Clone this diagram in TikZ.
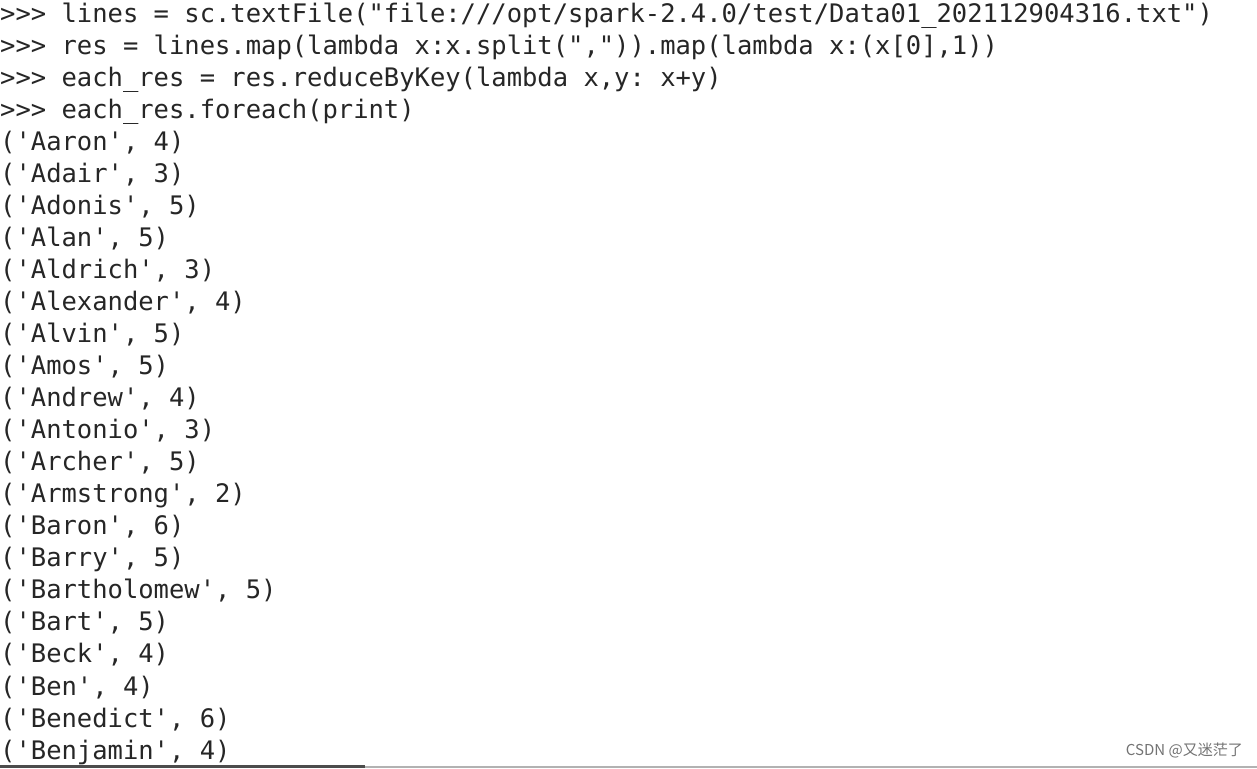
\documentclass[tikz,border=0pt]{standalone}
\usepackage{fontspec}
\setmonofont{DejaVu Sans Mono}
\newfontfamily\cjk{Noto Sans CJK SC}
\begin{document}
\begin{tikzpicture}[x=1pt,y=1pt,
  term/.style={anchor=base west,inner sep=0pt,font=\ttfamily\fontsize{25.5}{30}\selectfont,text=black!85}]
\useasboundingbox (0,0) rectangle (1257,768);
\fill[white] (0,0) rectangle (1257,768);
\def\L#1#2{\node[term] (l#1) at (0,{768-23-32*#1}) {\detokenize{#2}};}
\L{0}{>>> lines = sc.textFile("file:///opt/spark-2.4.0/test/Data01_202112904316.txt")}
\L{1}{>>> res = lines.map(lambda x:x.split(",")).map(lambda x:(x[0],1))}
\L{2}{>>> each_res = res.reduceByKey(lambda x,y: x+y)}
\L{3}{>>> each_res.foreach(print)}
\L{4}{('Aaron', 4)}
\L{5}{('Adair', 3)}
\L{6}{('Adonis', 5)}
\L{7}{('Alan', 5)}
\L{8}{('Aldrich', 3)}
\L{9}{('Alexander', 4)}
\L{10}{('Alvin', 5)}
\L{11}{('Amos', 5)}
\L{12}{('Andrew', 4)}
\L{13}{('Antonio', 3)}
\L{14}{('Archer', 5)}
\L{15}{('Armstrong', 2)}
\L{16}{('Baron', 6)}
\L{17}{('Barry', 5)}
\L{18}{('Bartholomew', 5)}
\L{19}{('Bart', 5)}
\L{20}{('Beck', 4)}
\L{21}{('Ben', 4)}
\L{22}{('Benedict', 6)}
\L{23}{('Benjamin', 4)}
\fill[black!70] (0,0) rectangle (365,3);
\fill[black!30] (365,0) rectangle (1257,2);
\node[anchor=base east,inner sep=0pt,font=\cjk\fontsize{15}{18}\selectfont,text=black!55] (wm) at (1243,13) {CSDN @又迷茫了};
\end{tikzpicture}
\end{document}
